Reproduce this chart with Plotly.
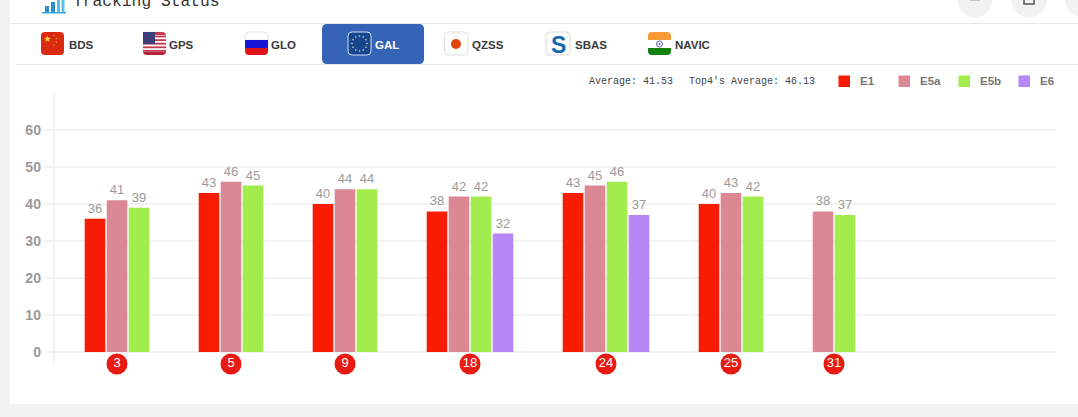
import math
import plotly.graph_objects as go

W, H = 1078, 417

# Satellite numbers and carrier-to-noise readings per signal band
satellites = ["3", "5", "9", "18", "24", "25", "31"]
e1 = [36, 43, 40, 38, 43, 40, None]
e5a = [41, 46, 44, 42, 45, 43, 38]
e5b = [39, 45, 44, 42, 46, 42, 37]
e6 = [None, None, None, 32, 37, None, None]
band_names = ["E1", "E5a", "E5b", "E6"]
band_colors = ["#f81c02", "#dc8794", "#a3ec4e", "#b787f5"]
y_ticks = [0, 10, 20, 30, 40, 50, 60]
tab_names = ["BDS", "GPS", "GLO", "GAL", "QZSS", "SBAS", "NAVIC"]
average_text = "Average: 41.53"
top4_text = "Top4's Average: 46.13"
title_text = "Tracking Status"

BAR_STEP = 22.0
GROUP_GAP = 48.0 / BAR_STEP
FIRST_BAR_PX = 95.0
PLOT_LEFT, PLOT_RIGHT = 54.5, 1056.0
PLOT_TOP, PLOT_BOTTOM = 93.0, 364.2
Y_MIN, Y_MAX = -3.3, 70
BADGE_Y = -3.25


def px(x):
    return x / W


def py(y):
    return 1 - y / H


shapes = []
annotations = []


def rect(x0, y0, x1, y1, fill, line=None, layer="below"):
    shapes.append(dict(
        type="rect", xref="paper", yref="paper", layer=layer,
        x0=px(x0), x1=px(x1), y0=py(y0), y1=py(y1), fillcolor=fill,
        line=dict(width=1 if line else 0, color=line or fill),
    ))


def circle(cx, cy, r, fill, line=None, width=1):
    shapes.append(dict(
        type="circle", xref="paper", yref="paper", layer="below",
        x0=px(cx - r), x1=px(cx + r), y0=py(cy + r), y1=py(cy - r),
        fillcolor=fill, line=dict(width=width if line else 0, color=line or fill),
    ))


def rounded(x0, y0, x1, y1, r, fill, line=None, top=True, bottom=True):
    rt = r if top else 0
    rb = r if bottom else 0
    p = (
        f"M {px(x0 + rt)} {py(y0)} L {px(x1 - rt)} {py(y0)} "
        f"Q {px(x1)} {py(y0)} {px(x1)} {py(y0 + rt)} "
        f"L {px(x1)} {py(y1 - rb)} Q {px(x1)} {py(y1)} {px(x1 - rb)} {py(y1)} "
        f"L {px(x0 + rb)} {py(y1)} Q {px(x0)} {py(y1)} {px(x0)} {py(y1 - rb)} "
        f"L {px(x0)} {py(y0 + rt)} Q {px(x0)} {py(y0)} {px(x0 + rt)} {py(y0)} Z"
    )
    shapes.append(dict(
        type="path", xref="paper", yref="paper", layer="below", path=p,
        fillcolor=fill, line=dict(width=1 if line else 0, color=line or fill),
    ))


def label(x, y, text, size, color, family="Liberation Sans", anchor="left"):
    annotations.append(dict(
        xref="paper", yref="paper", x=px(x), y=py(y), text=text, showarrow=False,
        xanchor=anchor, yanchor="middle", borderpad=0,
        font=dict(family=family, size=size, color=color),
    ))


def star(cx, cy, r, fill):
    pts = []
    for i in range(10):
        a = -math.pi / 2 + i * math.pi / 5
        d = r if i % 2 == 0 else r * 0.4
        pts.append((px(cx + d * math.cos(a)), py(cy + d * math.sin(a))))
    p = "M " + " L ".join(f"{a} {b}" for a, b in pts) + " Z"
    shapes.append(dict(type="path", xref="paper", yref="paper", layer="below",
                       path=p, fillcolor=fill, line=dict(width=0)))


# Page background and card separators
rect(0, 0, 10, H, "#f2f2f2")
rect(0, 404, W, H, "#f2f2f2")
rect(10, 23, W, 24, "#e6e6e6")
rect(16, 64, W, 65, "#e6e6e6")

# Header icon and toolbar buttons
rect(42, 12, 66, 13.5, "#35a7dc")
rect(45, 6, 49, 12, "#2f8fcb")
rect(51, 2, 55, 12, "#2f8fcb")
rect(57, -1, 60, 12, "#58bde8")
rect(61.5, -1, 64.5, 12, "#58bde8")
label(72, 1.5, title_text, 16.3, "#333333", family="Liberation Mono")
for cx in (975, 1029, 1083):
    circle(cx, 0, 17.5, "#f2f2f2")
rect(970, -1, 980, 1, "#c4c4c4")
shapes.append(dict(type="path", xref="paper", yref="paper", layer="below",
                   path=f"M {px(1024)} {py(0)} L {px(1024)} {py(4)} L {px(1034)} {py(4)} L {px(1034)} {py(0)}",
                   line=dict(width=1.5, color="#555555")))

# Active tab highlight
rounded(322, 24, 424, 64, 5, "#3563b5")

# Constellation flags
FLAG_TOP, FLAG_BOTTOM, FLAG_R = 32, 55, 4
rounded(41, FLAG_TOP, 64, FLAG_BOTTOM, FLAG_R, "#dc2a10")
star(47.5, 39, 3.6, "#f8d927")
for sx, sy in ((54, 35.5), (56.5, 38.5), (56.5, 42), (54, 45)):
    star(sx, sy, 1.1, "#f3b62a")

rounded(143, FLAG_TOP, 166, FLAG_BOTTOM, FLAG_R, "#ffffff", line="#ececec")
rounded(143, FLAG_TOP, 166, 35, FLAG_R, "#c23a4c", bottom=False)
for i in range(1, 6):
    rect(143, 32 + i * 3.6, 166, 33.8 + i * 3.6, "#c23a4c")
rounded(143, 52, 166, FLAG_BOTTOM, FLAG_R, "#b5243a", top=False)
rect(143, 32, 155, 44, "#3d3f78")

rounded(245, FLAG_TOP, 268, 40, FLAG_R, "#ffffff", line="#e6e6e6", bottom=False)
rect(245, 40, 268, 48, "#1515d8")
rounded(245, 48, 268, FLAG_BOTTOM, FLAG_R, "#e0141c", top=False)

rounded(348, FLAG_TOP, 371, FLAG_BOTTOM, FLAG_R, "#17468f", line="#cfe0f5")
for i in range(12):
    a = i * math.pi / 6
    circle(359.5 + 7.5 * math.cos(a), 43.5 + 7.5 * math.sin(a), 0.8, "#e8edc0")

rounded(444.5, FLAG_TOP, 468, FLAG_BOTTOM, FLAG_R, "#ffffff", line="#dddddd")
circle(456, 44, 5, "#e2460f")

rounded(546, FLAG_TOP, 570, FLAG_BOTTOM, FLAG_R, "#ffffff", line="#d8d8d8")
label(558, 44.5, "<b>S</b>", 23, "#1767b0", anchor="center")

rounded(648, FLAG_TOP, 671, 40, FLAG_R, "#f59a35", bottom=False)
rect(648, 40, 671, 48, "#ffffff")
rounded(648, 48, 671, FLAG_BOTTOM, FLAG_R, "#13820f", top=False)
circle(659.5, 44, 3, "#ffffff", line="#5a5ab0", width=1)
circle(659.5, 44, 1, "#5a5ab0")

# Constellation tab captions
tab_x = [67.5, 168, 270, 373.5, 470.5, 573.5, 673.5]
for name, x in zip(tab_names, tab_x):
    label(x, 44.5, f"<b>{name}</b>", 11.5, "#ffffff" if name == "GAL" else "#3a3a3a")

# Average read-outs and band legend
label(588, 81.5, average_text, 10, "#444444", family="Liberation Mono")
label(688, 81.5, top4_text, 10, "#444444", family="Liberation Mono")
legend_swatch_x = [838.5, 898.5, 958.5, 1018.5]
for name, color, x in zip(band_names, band_colors, legend_swatch_x):
    rect(x, 75.5, x + 11.5, 87, color)
    label(x + 20, 81, f"<b>{name}</b>", 11.5, "#777777")

# Lay out bar slots: each group only occupies slots for the bands it has
bands = [e1, e5a, e5b, e6]
slot_x = [[None] * len(satellites) for _ in bands]
centres = []
start = 0.0
for g in range(len(satellites)):
    present = [b for b in range(len(bands)) if bands[b][g] is not None]
    for k, b in enumerate(present):
        slot_x[b][g] = start + k
    centres.append(start + (len(present) - 1) / 2)
    start += len(present) + GROUP_GAP

fig = go.Figure()
for b, (name, color) in enumerate(zip(band_names, band_colors)):
    xs = [x for x in slot_x[b] if x is not None]
    ys = [v for v in bands[b] if v is not None]
    fig.add_trace(go.Bar(
        x=xs, y=ys, name=name, width=20.6 / BAR_STEP,
        marker=dict(color=color, line=dict(width=0)),
        text=[str(v) for v in ys], textposition="outside", textangle=0,
        textfont=dict(family="Liberation Sans", size=13, color="#9a9a9a"),
        cliponaxis=False,
    ))

# Red satellite number badges below the bars
fig.add_trace(go.Scatter(
    x=centres, y=[BADGE_Y] * len(centres), mode="markers+text",
    text=satellites, textposition="middle center",
    textfont=dict(family="Liberation Sans", size=13, color="#ffffff"),
    marker=dict(size=21, color="#e81b12", line=dict(width=0)),
    cliponaxis=False, showlegend=False,
))

fig.update_layout(
    width=W, height=H, autosize=False,
    margin=dict(l=0, r=0, t=0, b=0),
    paper_bgcolor="#ffffff", plot_bgcolor="rgba(0,0,0,0)",
    barmode="overlay", showlegend=False,
    shapes=shapes, annotations=annotations,
    xaxis=dict(
        domain=[px(PLOT_LEFT), px(PLOT_RIGHT)],
        range=[(PLOT_LEFT - FIRST_BAR_PX) / BAR_STEP, (PLOT_RIGHT - FIRST_BAR_PX) / BAR_STEP],
        showgrid=False, zeroline=False, showticklabels=False, ticks="", showline=False,
    ),
    yaxis=dict(
        domain=[py(PLOT_BOTTOM), py(PLOT_TOP)],
        range=[Y_MIN, Y_MAX], tickvals=y_ticks, ticktext=[f"<b>{t}</b>" for t in y_ticks],
        ticks="outside", ticklen=9, tickwidth=1.5,
        tickcolor="#f2f2f2", gridcolor="#f2f2f2", gridwidth=1.5, zeroline=False,
        showline=True, linecolor="#f2f2f2", linewidth=1.5,
        tickfont=dict(family="Liberation Sans", size=14, color="#999999"),
    ),
)

fig.write_html("out.html")
